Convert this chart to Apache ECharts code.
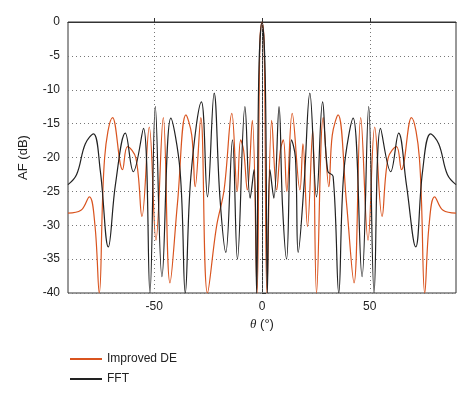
<!DOCTYPE html>
<html><head><meta charset="utf-8">
<script src="https://cdn.jsdelivr.net/npm/echarts@6/dist/echarts.min.js"></script>
<style>body{margin:0;background:#fff}#c{width:474px;height:400px}</style></head>
<body><div id="c"></div>
<script>
const xTicks = [-50, 0, 50];
const yTicks = [0, -5, -10, -15, -20, -25, -30, -35, -40];
const fftData = [
[-90,-24],[-86,-22.5],[-82,-18],[-78.2,-16.5],[-75,-22],[-71.3,-33.2],[-68,-24],[-63.4,-16.4],[-59.7,-22.1],[-55,-15.7],[-52,-40],[-49.5,-12.5],[-46.4,-37.6],[-42.3,-14.2],[-38,-22],[-35.6,-40],[-33,-22.8],[-28.1,-11.8],[-25.3,-25.8],[-22.2,-10.5],[-19.5,-26],[-16.8,-34],[-13.7,-17.4],[-11.4,-35],[-7.9,-12.5],[-5.5,-26],[-3.7,-21.8],[-2.5,-40],[-1.5,-8],[0,0],[1.5,-8],[2.5,-40],[3.7,-21.8],[5.5,-26],[7.9,-12.5],[9.5,-27],[11.4,-35],[13.7,-17.4],[15.5,-20],[16.8,-34],[19.5,-24],[22.2,-10.5],[25.3,-25.8],[28.1,-11.8],[30.5,-22],[33,-22.8],[35.6,-40],[38,-22],[42.3,-14.2],[46.4,-37.6],[49.5,-12.5],[52,-40],[55,-15.7],[59.7,-22.1],[63.4,-16.4],[67,-24],[71.3,-33.2],[74.5,-22],[78.2,-16.5],[82,-18],[86,-22.5],[90,-24]
];
const deData = [
[-90,-28.2],[-84,-27.8],[-80.1,-25.8],[-77.5,-30],[-75.5,-40],[-73,-20],[-69.3,-14.1],[-64.7,-21.8],[-62.4,-18.4],[-58.5,-20.1],[-55.7,-28.7],[-52.3,-15.5],[-49.2,-32.2],[-45.8,-14.1],[-42.7,-38.5],[-39.2,-26.7],[-35.3,-13.7],[-32.6,-16.7],[-31,-24.3],[-28.4,-14.1],[-25.3,-40],[-21.1,-30.2],[-17.6,-24.8],[-14,-13.5],[-11.5,-25],[-9.9,-17.4],[-8.5,-19],[-6.8,-24.8],[-4.5,-14.5],[-2.3,-40],[-1,-3],[0,0],[1,-3],[2.3,-40],[4.5,-14.5],[6.8,-24.8],[8.5,-19],[9.9,-17.4],[11.5,-25],[14,-13.5],[17.6,-24.8],[19,-18],[21.1,-30.2],[23.5,-16],[25.3,-40],[28.4,-14.1],[31,-24.3],[32.6,-16.7],[35.3,-13.7],[39.2,-26.7],[42.7,-38.5],[45.8,-14.1],[49.2,-32.2],[52.3,-15.5],[55.7,-28.7],[58.5,-20.1],[62.4,-18.4],[64.7,-21.8],[69.3,-14.1],[73,-20],[75.5,-40],[77.5,-30],[80.1,-25.8],[84,-27.8],[90,-28.2]
];
const c = echarts.init(document.getElementById('c'));
const ax = {color:'#222',fontSize:12,fontFamily:'Liberation Sans'};
c.setOption({
  animation:false,
  grid:{left:68,right:18,top:22,bottom:107,show:true,borderColor:'#333',borderWidth:1},
  legend:{orient:'vertical',left:65,top:348,itemGap:8,itemWidth:32,itemHeight:2,icon:'rect',
    textStyle:{fontSize:12,fontFamily:'Liberation Sans',color:'#222'},data:['Improved DE','FFT']},
  xAxis:{type:'value',min:-90,max:90,interval:50,
    axisLabel:Object.assign({customValues:xTicks},ax),
    axisTick:{customValues:xTicks,inside:true,length:4,lineStyle:{color:'#333'}},
    axisLine:{lineStyle:{color:'#333'}},
    splitLine:{show:false},
    name:'{i|θ} (°)',nameLocation:'middle',nameGap:22,
    nameTextStyle:{fontSize:13,fontFamily:'Liberation Sans',color:'#222',rich:{i:{fontStyle:'italic',fontSize:13,fontFamily:'Liberation Serif'}}}},
  yAxis:{type:'value',min:-40,max:0,interval:5,
    axisLabel:ax,axisTick:{inside:true,length:4,lineStyle:{color:'#333'}},
    axisLine:{lineStyle:{color:'#333'}},
    splitLine:{show:true,lineStyle:{type:[1,3],color:'#777'}},
    name:'AF (dB)',nameLocation:'middle',nameGap:38,nameTextStyle:{fontSize:13,fontFamily:'Liberation Sans',color:'#222'}},
  series:[
    {name:'Improved DE',type:'line',data:deData,showSymbol:false,smooth:0.4,lineStyle:{color:'#d9541f',width:1.2},itemStyle:{color:'#d9541f'}},
    {name:'FFT',type:'line',data:fftData,showSymbol:false,smooth:0.4,lineStyle:{color:'#222',width:1.2},itemStyle:{color:'#222'},
     markLine:{silent:true,symbol:'none',label:{show:false},lineStyle:{type:[1,3],color:'#777',width:1},data:xTicks.map(v=>({xAxis:v}))}}
  ]
});
</script></body></html>
